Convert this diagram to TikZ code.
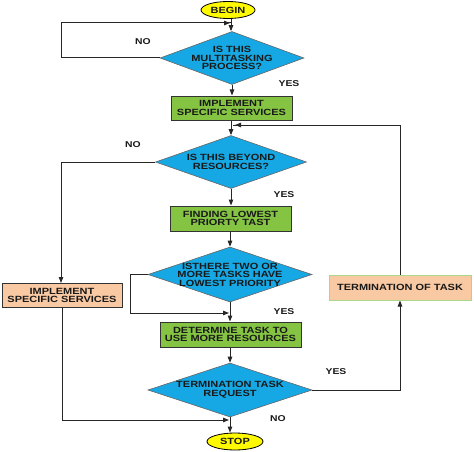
\documentclass[tikz,border=0pt]{standalone}
\usepackage{fontspec}
\newfontfamily\diagfont[FakeStretch=1.22]{Liberation Sans}
\usetikzlibrary{shapes.geometric,arrows.meta}
\definecolor{dblue}{RGB}{22,168,228}
\definecolor{bgreen}{RGB}{132,196,66}
\definecolor{borange}{RGB}{249,201,163}
\definecolor{byellow}{RGB}{255,250,0}
\definecolor{lgreen}{RGB}{170,215,140}
\begin{document}
\begin{tikzpicture}[x=1pt,y=-1pt,
  txt/.style={font=\diagfont\bfseries\fontsize{9}{8.6}\selectfont,align=center,text=black!90,inner sep=0pt},
  dia/.style={diamond,draw=black!60,line width=0.6pt,fill=dblue,inner sep=0pt},
  gbox/.style={rectangle,draw=black!80,line width=1pt,fill=bgreen,inner sep=0pt},
  obox/.style={rectangle,draw=black!80,line width=1pt,fill=borange,inner sep=0pt},
  term/.style={ellipse,draw=black,line width=0.8pt,fill=byellow,inner sep=0pt},
  lbl/.style={font=\diagfont\bfseries\fontsize{8.5}{9}\selectfont,text=black!90,inner sep=0pt},
  conn/.style={draw=black!85,line width=1pt,-{Triangle[length=6pt,width=4.5pt]}},
  line/.style={draw=black!85,line width=1pt}]
\useasboundingbox (0,0) rectangle (474,452);

% nodes
\node[term,minimum width=54pt,minimum height=17pt] (begin) at (228,10) {};
\node[txt] at (begin) {BEGIN};

\node[dia,minimum width=144pt,minimum height=53pt] (d1) at (232,58) {};
\node[txt] at (d1) {IS THIS\\MULTITASKING\\PROCESS?};

\node[gbox,minimum width=121pt,minimum height=24pt] (b1) at (231.5,108) {};
\node[txt] at (b1) {IMPLEMENT\\SPECIFIC SERVICES};

\node[dia,minimum width=151pt,minimum height=53pt] (d2) at (231,162) {};
\node[txt] at (d2) {IS THIS BEYOND\\RESOURCES?};

\node[gbox,minimum width=121pt,minimum height=25pt] (b2) at (230.5,218.5) {};
\node[txt] at (b2) {FINDING LOWEST\\PRIORTY TAST};

\node[dia,minimum width=164pt,minimum height=55pt] (d3) at (230,274.5) {};
\node[txt] at (d3) {ISTHERE TWO OR\\MORE TASKS HAVE\\LOWEST PRIORITY};

\node[gbox,minimum width=141pt,minimum height=25pt] (b3) at (230.5,334.5) {};
\node[txt] at (b3) {DETERMINE TASK TO\\USE MORE RESOURCES};

\node[dia,minimum width=164pt,minimum height=54pt] (d4) at (230,390) {};
\node[txt] at (d4) {TERMINATION TASK\\REQUEST};

\node[term,minimum width=56pt,minimum height=17pt] (stop) at (235,441.5) {};
\node[txt] at (stop) {STOP};

\node[obox,minimum width=120pt,minimum height=24pt] (lb) at (62,295.5) {};
\node[txt] at (lb) {IMPLEMENT\\SPECIFIC SERVICES};

\node[rectangle,draw=lgreen,line width=1pt,fill=borange,inner sep=0pt,minimum width=142pt,minimum height=25pt] (tb) at (400,287.5) {};
\node[txt] at (tb) {TERMINATION OF TASK};

% labels
\node[lbl] (no1) at (143,42) {NO};
\node[lbl] (yes1) at (289,84) {YES};
\node[lbl] (no2) at (133,145) {NO};
\node[lbl] (yes2) at (284,195) {YES};
\node[lbl] (yes3) at (284,312) {YES};
\node[lbl] (yes4) at (336,372) {YES};
\node[lbl] (no4) at (278,419) {NO};

% coordinates
\coordinate (j1) at (231,23);
\coordinate (j2) at (233,125);
\coordinate (j3) at (230,313);
\coordinate (j4) at (231,420);

% connectors
\draw[conn] (begin.south -| j1) -- (d1.north -| j1);
\draw[line] (d1.west) -- (61,58) -- (61,23) -- (j1);
\draw[conn] (61,23) -- ([xshift=-1pt]j1);

\draw[conn] (d1.south) -- (b1.north -| d1.south);
\draw[conn] (b1.south -| d2.north) -- (d2.north);
\draw[line] (tb.north) -- (400,125) -- (j2);
\draw[conn] (400,125) -- ([xshift=2pt]j2);

\draw[conn] (d2.west) -- (61,162) -- (lb.north -| 61,0);
\draw[conn] (d2.south) -- (b2.north -| d2.south);
\draw[conn] (b2.south -| d3.north) -- (d3.north);

\draw[line] (d3.west) -- (130,274.5) -- (130,313);
\draw[conn] (130,313) -- ([xshift=-1pt]j3);
\draw[conn] (d3.south) -- (b3.north -| d3.south);
\draw[conn] (b3.south -| d4.north) -- (d4.north);

\draw[conn] (d4.east) -- (400,390) -- (tb.south);
\draw[line] (lb.south) -- (62,420);
\draw[conn] (62,420) -- ([xshift=-2pt]j4);
\draw[conn] (d4.south) -- (stop.north -| d4.south);
\end{tikzpicture}
\end{document}
